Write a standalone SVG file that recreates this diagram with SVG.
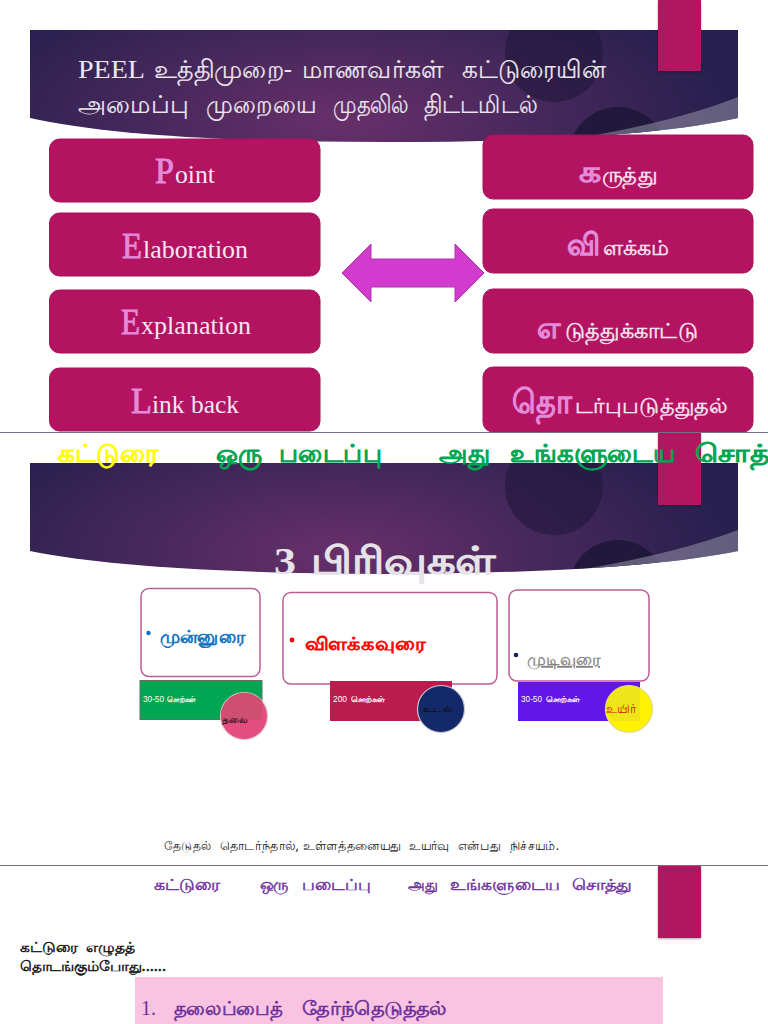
<svg xmlns="http://www.w3.org/2000/svg" width="768" height="1024" viewBox="0 0 768 1024">
<style>
text{font-family:"Noto Sans","Liberation Sans","DejaVu Sans",sans-serif}
.s{font-family:"Liberation Serif",serif}
.box{fill:#b31361;stroke:#a81259;stroke-width:1}
.big{fill:#e38ad9;stroke:#e38ad9}
.en{font-size:26px;fill:#f6e6f3;font-family:"Liberation Serif",serif}
.cap{font-size:35px;font-family:"Liberation Serif",serif;stroke-width:.9}
.ta{font-size:21px;fill:#f8e6f4;stroke:#f8e6f4;stroke-width:.4}
.tb{font-size:30px;stroke-width:1.5}
.ti{font-size:25px;fill:#ece6ee;stroke:#ece6ee;stroke-width:.15}
.ye{font-size:25px;fill:#ffff00;stroke:#ffff00;stroke-width:1.2}
.gr{font-size:25px;fill:#00a651;stroke:#00a651;stroke-width:1.2}
.pu{font-size:16px;fill:#7030a0;stroke:#7030a0;stroke-width:.5}
.bl{font-size:14px;fill:#111;stroke:#111;stroke-width:.45}
.qu{font-size:12px;fill:#1b1b1b}
.he{font-size:19px;fill:#6c2f9a;stroke:#6c2f9a;stroke-width:.6}
.sm{font-size:8px;fill:#fff;stroke:#fff;stroke-width:.25}
.nu{font-size:9px;fill:#fff;font-family:"Liberation Sans",sans-serif}
.card{fill:#fff;stroke:#bb5c96;stroke-width:1.5}
.line{stroke:#7d7088;stroke-width:1.2}
.tab{fill:#b31361}
</style>
<defs>
<radialGradient id="g" gradientUnits="userSpaceOnUse" cx="340" cy="120" r="390" gradientTransform="translate(0 72) scale(1 .4)">
<stop offset="0" stop-color="#68306a"/><stop offset="1" stop-color="#27204e"/></radialGradient>
<radialGradient id="g2" gradientUnits="userSpaceOnUse" cx="340" cy="553" r="390" gradientTransform="translate(0 332) scale(1 .4)">
<stop offset="0" stop-color="#68306a"/><stop offset="1" stop-color="#27204e"/></radialGradient>
<clipPath id="c1"><path d="M30 30H738V118Q630 142 384 142Q138 142 30 118Z"/></clipPath>
<clipPath id="c2"><path d="M30 463H738V551Q630 573 384 574Q138 573 30 551Z"/></clipPath>
<filter id="s" x="-20%" y="-20%" width="140%" height="140%"><feDropShadow dx="0" dy="1" stdDeviation="1" flood-opacity=".35"/></filter>
</defs>

<g id="banner-1">
<path d="M30 30H738V118Q630 142 384 142Q138 142 30 118Z" fill="url(#g)"/>
<g clip-path="url(#c1)">
<circle cx="554" cy="53" r="49" fill="#20183a" opacity=".6"/>
<circle cx="618" cy="156" r="49" fill="#1c1534" opacity=".8"/>
<path d="M590 136Q680 120 738 97V142H590Z" fill="#8c88a0" opacity=".6"/>
</g>
<rect class="tab" x="658" y="0" width="43" height="71" filter="url(#s)"/>
<text class="en s" x="78" y="78" textLength="67" lengthAdjust="spacingAndGlyphs" style="fill:#ece6ee">PEEL</text>
<text class="ti" x="154" y="78" textLength="138" lengthAdjust="spacingAndGlyphs">உத்திமுறை-</text>
<text class="ti" x="302" y="78" textLength="142" lengthAdjust="spacingAndGlyphs">மாணவர்கள்</text>
<text class="ti" x="462" y="78" textLength="144" lengthAdjust="spacingAndGlyphs">கட்டுரையின்</text>
<text class="ti" x="78" y="113" textLength="111" lengthAdjust="spacingAndGlyphs">அமைப்பு</text>
<text class="ti" x="206" y="113" textLength="110" lengthAdjust="spacingAndGlyphs">முறையை</text>
<text class="ti" x="333" y="113" textLength="76" lengthAdjust="spacingAndGlyphs">முதலில்</text>
<text class="ti" x="424" y="113" textLength="114" lengthAdjust="spacingAndGlyphs">திட்டமிடல்</text>
</g>

<g id="node-point"><rect class="box" x="49.500" y="139" width="270.500" height="63" rx="10"/>
<text class="cap big" x="155" y="183" textLength="19" lengthAdjust="spacingAndGlyphs">P</text><text class="en" x="175" y="183" textLength="40" lengthAdjust="spacingAndGlyphs">oint</text></g>
<g id="node-elaboration"><rect class="box" x="49.500" y="213" width="270.500" height="63" rx="10"/>
<text class="cap big" x="122" y="258" textLength="20" lengthAdjust="spacingAndGlyphs">E</text><text class="en" x="143" y="258" textLength="105" lengthAdjust="spacingAndGlyphs">laboration</text></g>
<g id="node-explanation"><rect class="box" x="49.500" y="290" width="270.500" height="63" rx="10"/>
<text class="cap big" x="121" y="334" textLength="19" lengthAdjust="spacingAndGlyphs">E</text><text class="en" x="141" y="334" textLength="110" lengthAdjust="spacingAndGlyphs">xplanation</text></g>
<g id="node-linkback"><rect class="box" x="49.500" y="368" width="270.500" height="63" rx="10"/>
<text class="cap big" x="131" y="413" textLength="21" lengthAdjust="spacingAndGlyphs">L</text><text class="en" x="152" y="413" textLength="87" lengthAdjust="spacingAndGlyphs">ink back</text></g>

<g id="node-karuthu"><rect class="box" x="483" y="135" width="270" height="64" rx="10"/>
<text class="tb big" x="579" y="182" textLength="22" lengthAdjust="spacingAndGlyphs">க</text><text class="ta" x="602" y="182" textLength="55" lengthAdjust="spacingAndGlyphs">ருத்து</text></g>
<g id="node-vilakkam"><rect class="box" x="483" y="209" width="270" height="64" rx="10"/>
<text class="tb big" x="567" y="255" textLength="33" lengthAdjust="spacingAndGlyphs">வி</text><text class="ta" x="603" y="255" textLength="66" lengthAdjust="spacingAndGlyphs">ளக்கம்</text></g>
<g id="node-eduthu"><rect class="box" x="483" y="289" width="270" height="64" rx="10"/>
<text class="tb big" x="537" y="338" textLength="23" lengthAdjust="spacingAndGlyphs">எ</text><text class="ta" x="565" y="338" textLength="133" lengthAdjust="spacingAndGlyphs">டுத்துக்காட்டு</text></g>
<g id="node-thodar"><rect class="box" x="483" y="367" width="270" height="65" rx="10"/>
<text class="tb big" x="512" y="413" style="font-size:33px" textLength="60" lengthAdjust="spacingAndGlyphs">தொ</text><text class="ta" x="575" y="413" textLength="152" lengthAdjust="spacingAndGlyphs">டர்புபடுத்துதல்</text></g>

<g id="connectors">
<path d="M342 273L371 244V259H455V244L484 273L455 302V287H371V302Z" fill="#d13bce" stroke="#a8389f" stroke-width="1"/>
<line class="line" x1="0" y1="432.500" x2="768" y2="432.500"/>
<line class="line" x1="0" y1="865.500" x2="768" y2="865.500"/>
</g>

<g id="banner-2">
<path d="M30 463H738V551Q630 573 384 574Q138 573 30 551Z" fill="url(#g2)"/>
<g clip-path="url(#c2)">
<circle cx="554" cy="486" r="49" fill="#20183a" opacity=".6"/>
<circle cx="618" cy="589" r="49" fill="#1c1534" opacity=".8"/>
<path d="M590 568Q680 552 738 530V574H590Z" fill="#8c88a0" opacity=".6"/>
</g>
<rect class="tab" x="658" y="433" width="43" height="72" filter="url(#s)"/>
<text class="ye" x="58" y="462" textLength="101" lengthAdjust="spacingAndGlyphs">கட்டுரை</text>
<text class="gr" x="216" y="462" textLength="46" lengthAdjust="spacingAndGlyphs">ஒரு</text>
<text class="gr" x="279" y="462" textLength="103" lengthAdjust="spacingAndGlyphs">படைப்பு</text>
<text class="gr" x="439" y="462" textLength="51" lengthAdjust="spacingAndGlyphs">அது</text>
<text class="gr" x="510" y="462" textLength="165" lengthAdjust="spacingAndGlyphs">உங்களுடைய</text>
<text class="gr" x="695" y="462" textLength="100" lengthAdjust="spacingAndGlyphs">சொத்து</text>
<text x="274" y="574" font-size="38" font-weight="700" class="s" fill="#e6e3e8" textLength="22" lengthAdjust="spacingAndGlyphs">3</text>
<text x="311" y="574" font-size="38" fill="#e6e3e8" stroke="#e6e3e8" stroke-width="1.600" textLength="184" lengthAdjust="spacingAndGlyphs">பிரிவுகள்</text>
</g>

<g id="node-munnurai">
<rect class="card" x="141" y="588.500" width="119" height="88" rx="8"/>
<circle cx="148.500" cy="633" r="2.200" fill="#0b70c0"/>
<text x="160" y="643" font-size="18" fill="#0b70c0" stroke="#0b70c0" stroke-width=".7" textLength="85" lengthAdjust="spacingAndGlyphs">முன்னுரை</text>
<rect x="140" y="680.500" width="122" height="39" fill="#00a651" stroke="#6b6b6b" stroke-width="1"/>
<text class="nu" x="143" y="702" textLength="21" lengthAdjust="spacingAndGlyphs">30-50</text>
<text class="sm" x="167" y="702" textLength="29" lengthAdjust="spacingAndGlyphs">சொற்கள்</text>
<circle cx="244" cy="716" r="23.500" fill="#e54d80" stroke="#d8c8c8" stroke-width="1.200"/>
<path d="M221 712.500A23.500 23.500 0 0 1 262 701V719.500H221Z" fill="#cf4f72"/>
<text x="222" y="723" font-size="9.500" fill="#111" stroke="#111" stroke-width=".2" textLength="25" lengthAdjust="spacingAndGlyphs">தலை</text>
</g>

<g id="node-vilakkavurai">
<rect class="card" x="283" y="592.500" width="214" height="91.500" rx="8"/>
<circle cx="292" cy="640" r="2.400" fill="#f00"/>
<text x="305" y="650" font-size="18" fill="#f00" stroke="#f00" stroke-width=".8" textLength="120" lengthAdjust="spacingAndGlyphs">விளக்கவுரை</text>
<rect x="330" y="681" width="122" height="40" fill="#bb1c4e"/>
<text class="nu" x="333" y="702" textLength="14" lengthAdjust="spacingAndGlyphs">200</text>
<text class="sm" x="351" y="702" textLength="34" lengthAdjust="spacingAndGlyphs">சொற்கள்</text>
<circle cx="441" cy="709" r="23.500" fill="#14296a" stroke="#c8c8d4" stroke-width="1.200"/>
<text x="423" y="712" font-size="9.500" fill="#111" stroke="#111" stroke-width=".2" textLength="29" lengthAdjust="spacingAndGlyphs">உடல்</text>
</g>

<g id="node-mudivurai">
<rect class="card" x="509" y="590" width="140" height="91" rx="8"/>
<circle cx="516" cy="655" r="2.300" fill="#142060"/>
<text x="527" y="665" font-size="16" fill="#808080" stroke="#808080" stroke-width=".3" text-decoration="underline" textLength="73" lengthAdjust="spacingAndGlyphs">முடிவுரை</text>
<rect x="518" y="682" width="122" height="39" fill="#6216e8"/>
<text class="nu" x="521" y="702" textLength="21" lengthAdjust="spacingAndGlyphs">30-50</text>
<text class="sm" x="546" y="702" textLength="34" lengthAdjust="spacingAndGlyphs">சொற்கள்</text>
<circle cx="629" cy="709" r="23.500" fill="#fff200" stroke="#e0d8a0" stroke-width="1.200"/>
<path d="M606 704A23.500 23.500 0 0 1 640 688.300V721H613A23.500 23.500 0 0 1 606 704Z" fill="#efe619"/>
<text x="606" y="713" font-size="12" fill="#d91010" textLength="30" lengthAdjust="spacingAndGlyphs">உயிர்</text>
</g>

<g id="footer-quote">
<text class="qu" x="164" y="850" textLength="47" lengthAdjust="spacingAndGlyphs">தேடுதல்</text>
<text class="qu" x="220" y="850" textLength="79" lengthAdjust="spacingAndGlyphs">தொடர்ந்தால்,</text>
<text class="qu" x="303" y="850" textLength="98" lengthAdjust="spacingAndGlyphs">உள்ளத்தனையது</text>
<text class="qu" x="409" y="850" textLength="40" lengthAdjust="spacingAndGlyphs">உயர்வு</text>
<text class="qu" x="458" y="850" textLength="42" lengthAdjust="spacingAndGlyphs">என்பது</text>
<text class="qu" x="510" y="850" textLength="49" lengthAdjust="spacingAndGlyphs">நிச்சயம்.</text>
</g>

<g id="section-3">
<rect class="tab" x="658" y="866" width="43" height="72" filter="url(#s)"/>
<text class="pu" x="154" y="890" textLength="66" lengthAdjust="spacingAndGlyphs">கட்டுரை</text>
<text class="pu" x="260" y="890" textLength="29" lengthAdjust="spacingAndGlyphs">ஒரு</text>
<text class="pu" x="302" y="890" textLength="69" lengthAdjust="spacingAndGlyphs">படைப்பு</text>
<text class="pu" x="408" y="890" textLength="30" lengthAdjust="spacingAndGlyphs">அது</text>
<text class="pu" x="450" y="890" textLength="110" lengthAdjust="spacingAndGlyphs">உங்களுடைய</text>
<text class="pu" x="572" y="890" textLength="60" lengthAdjust="spacingAndGlyphs">சொத்து</text>
<text class="bl" x="20" y="952" textLength="58" lengthAdjust="spacingAndGlyphs">கட்டுரை</text>
<text class="bl" x="86" y="952" textLength="49" lengthAdjust="spacingAndGlyphs">எழுதத்</text>
<text class="bl" x="20" y="971" textLength="146" lengthAdjust="spacingAndGlyphs">தொடங்கும்போது......</text>
<rect x="135" y="977" width="528" height="47" fill="#fac3e2"/>
<text class="s" x="141" y="1015" font-size="20" fill="#6c2f9a">1.</text>
<text class="he" x="174" y="1015" textLength="108" lengthAdjust="spacingAndGlyphs">தலைப்பைத்</text>
<text class="he" x="302" y="1015" textLength="145" lengthAdjust="spacingAndGlyphs">தேர்ந்தெடுத்தல்</text>
</g>
</svg>
